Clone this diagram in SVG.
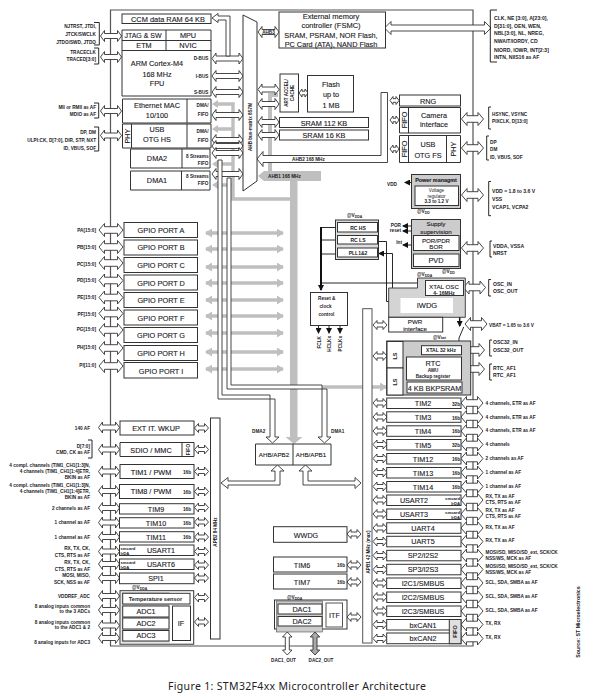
<svg xmlns="http://www.w3.org/2000/svg" width="594" height="700" viewBox="0 0 594 700">
<style>
text{font-family:"Liberation Sans",Arial,sans-serif;fill:#1a1a26}
.t{font-size:7.300px;text-anchor:middle;stroke:#1a1a26;stroke-width:.12}
.m{font-size:7.200px;text-anchor:middle;stroke:#1a1a26;stroke-width:.12}
.u{font-size:6.200px;text-anchor:middle;stroke:#1a1a26;stroke-width:.12}
.s{font-size:4.600px;font-weight:bold;text-anchor:middle}
.l{font-size:4.700px;font-weight:bold}
.f{font-size:5.100px;font-weight:bold}
.e{font-size:4.700px;font-weight:bold;text-anchor:end}
.b{fill:#fff;stroke:#333;stroke-width:1}
.g{fill:#ccc;stroke:#333;stroke-width:1}
.w{fill:#fff;stroke:#333;stroke-width:.9}
.k{fill:none;stroke:#111;stroke-width:.9}
.y{fill:none;stroke:#bfbfbf;stroke-width:3.4}
.fr{fill:none;stroke:#555;stroke-width:1.2}
</style>
<defs>
<marker id="h" markerUnits="userSpaceOnUse" markerWidth="6" markerHeight="6" refX="5" refY="3" orient="auto"><path d="M0,0L6,3L0,6Z" fill="#111"/></marker>
<marker id="gh" markerUnits="userSpaceOnUse" markerWidth="7" markerHeight="9" refX="6" refY="4.5" orient="auto-start-reverse"><path d="M0,0L7,4.5L0,9Z" fill="#bfbfbf"/></marker>
<path id="p" class="w" d="M0,0L5.5,-6.5V-3.3H16.5V-6.5L22,0L16.5,6.5V3.3H5.5V6.5Z"/>
<path id="q" class="w" d="M0,0L5.5,-6.5V-3.3H18.5V-6.5L24,0L18.5,6.5V3.3H5.5V6.5Z"/>
<path id="a" class="w" d="M0,0L4,-4.5V-2H10V-4.5L14,0L10,4.5V2H4V4.5Z"/>
<path id="c" class="w" d="M0,0L4,-5.5V-2.5H17V-5.5L21,0L17,5.5V2.5H4V5.5Z"/>
<path id="r" class="w" d="M0,0L4,-5.5V-2.5H27V-5.5L31,0L27,5.5V2.5H4V5.5Z"/>
<path id="v" class="w" d="M0,0L3,-4V-1.8H6V-4L9,0L6,4V1.8H3V4Z"/>
</defs>
<rect width="594" height="700" fill="#fff"/>
<path class="fr" d="M110.500,646V10H473V646Z"/>
<g id="bus-gray">
<path class="y" d="M217,104H233V199H293M217,129H233M217,164H233M217,185H233"/>
<path d="M212,104l6,-4v8ZM212,129l6,-4v8ZM212,164l6,-4v8ZM212,185l6,-4v8Z" fill="#bfbfbf"/>
<path d="M290,178h7.500v259h5l-8.500,7l-8.500,-7h4.500Z" fill="#bfbfbf"/>
<path d="M258,176L264,171H321V181H264Z" fill="#bfbfbf"/>
<path d="M268,172V93h10v4h-6v75Z" fill="#bfbfbf"/>
<path class="y" marker-end="url(#gh)" d="M297,387H386"/>
<g class="y" marker-start="url(#gh)" marker-end="url(#gh)">
<path d="M206,233H283"/><path d="M206,249H283"/><path d="M206,267H283"/><path d="M206,283H283"/><path d="M206,300H283"/><path d="M206,316H283"/><path d="M206,333H283"/><path d="M206,352H283"/><path d="M206,369H283"/>
</g>
</g>
<g id="connectors">
<use href="#r" x="212" y="58.500"/><use href="#r" x="212" y="76"/><use href="#r" x="212" y="92"/><use href="#r" x="212" y="115"/><use href="#r" x="212" y="140"/><use href="#r" x="212" y="146"/><use href="#r" x="212" y="153"/><use href="#r" x="212" y="174"/>
<path class="w" d="M212,18L218,13.500V16H230V56H226V20H218V22.500Z"/>
<path class="w" d="M218,160H222V395H270V437H266L272.500,443L279,437H275V399H218Z"/>
<path class="w" d="M227,178H231V385H322V437H318L324.500,443L331,437H327V389H227Z"/>
<path class="w" d="M221,483L228,477.500V481H275V471H271L277.500,465L284,471H280V485H228V488.500Z"/>
<path class="w" d="M305.500,465L312,471H308V481H355V477.500L361,483L355,488.500V485H303V471H299Z"/>
<path class="w" d="M257,159L263,151.500V155.500H381V92.500H387.500V162.500H263V166.500Z"/>
<use href="#c" x="258" y="32"/><use href="#c" x="258" y="89.500"/><use href="#c" x="258" y="104"/><use href="#c" x="258" y="122"/><use href="#c" x="258" y="135"/>
<use href="#v" x="299" y="93"/><use href="#v" x="390" y="100.500"/><use href="#v" x="390" y="120"/><use href="#v" x="390" y="149"/>
<path class="w" d="M384.500,28L391,21.500V25H484.500V21.500L491,28L484.500,34.500V31H391V34.500Z"/>
<use href="#p" x="461.500" y="119"/><use href="#p" x="461.500" y="148"/><use href="#p" x="461.500" y="195"/><use href="#p" x="461.500" y="248"/><use href="#p" x="463.500" y="287.500"/><use href="#p" x="465" y="324"/><use href="#p" x="462.500" y="350"/><use href="#p" x="462.500" y="369"/>
<use href="#a" x="373" y="325"/><use href="#a" x="373" y="356"/>
<use href="#p" x="461" y="403"/><use href="#p" x="461" y="417"/><use href="#p" x="461" y="431"/><use href="#p" x="461" y="444.500"/><use href="#p" x="461" y="458.500"/><use href="#p" x="461" y="472.500"/><use href="#p" x="461" y="486.500"/><use href="#p" x="461" y="500"/><use href="#p" x="461" y="514"/><use href="#p" x="461" y="528"/><use href="#p" x="461" y="541.500"/><use href="#p" x="461" y="555.500"/><use href="#p" x="461" y="569.500"/><use href="#p" x="461" y="583"/><use href="#p" x="461" y="597"/><use href="#p" x="461" y="611"/><use href="#p" x="461" y="624.500"/><use href="#p" x="461" y="638.500"/>
<use href="#a" x="373" y="403"/><use href="#a" x="373" y="417"/><use href="#a" x="373" y="431"/><use href="#a" x="373" y="444.500"/><use href="#a" x="373" y="458.500"/><use href="#a" x="373" y="472.500"/><use href="#a" x="373" y="486.500"/><use href="#a" x="373" y="500"/><use href="#a" x="373" y="514"/><use href="#a" x="373" y="528"/><use href="#a" x="373" y="541.500"/><use href="#a" x="373" y="555.500"/><use href="#a" x="373" y="569.500"/><use href="#a" x="373" y="583"/><use href="#a" x="373" y="597"/><use href="#a" x="373" y="611"/><use href="#a" x="373" y="624.500"/><use href="#a" x="373" y="638.500"/>
<use href="#a" x="347" y="534"/><use href="#a" x="347" y="565"/><use href="#a" x="347" y="582"/><use href="#a" x="347" y="617"/>
<use href="#a" x="194.500" y="428"/><use href="#a" x="194.500" y="449.500"/><use href="#a" x="194.500" y="471.500"/><use href="#a" x="194.500" y="491.500"/><use href="#a" x="194.500" y="507.500"/><use href="#a" x="194.500" y="522"/><use href="#a" x="194.500" y="537"/><use href="#a" x="194.500" y="551.500"/><use href="#a" x="194.500" y="565"/><use href="#a" x="194.500" y="578"/><use href="#a" x="194.500" y="597.500"/><use href="#a" x="194.500" y="622"/>
<use href="#c" x="100.500" y="36"/><use href="#c" x="100.500" y="57"/><use href="#c" x="100.500" y="111"/><use href="#c" x="100.500" y="135.500"/>
<use href="#q" x="99" y="230"/><use href="#q" x="99" y="247"/><use href="#q" x="99" y="263"/><use href="#q" x="99" y="280.500"/><use href="#q" x="99" y="297.500"/><use href="#q" x="99" y="313.500"/><use href="#q" x="99" y="330"/><use href="#q" x="99" y="348"/><use href="#q" x="99" y="366"/>
<use href="#c" x="98.500" y="427.500"/><use href="#c" x="98.500" y="449.500"/><use href="#c" x="98.500" y="471.500"/><use href="#c" x="98.500" y="491"/><use href="#c" x="98.500" y="508"/><use href="#c" x="98.500" y="522.500"/><use href="#c" x="98.500" y="537"/><use href="#c" x="98.500" y="551.500"/><use href="#c" x="98.500" y="564"/><use href="#c" x="98.500" y="578"/><use href="#c" x="98.500" y="596"/><use href="#c" x="98.500" y="610"/><use href="#c" x="98.500" y="625.500"/><use href="#c" x="98.500" y="638"/>
<path class="w" d="M287.300,632L292,637H289.300V650H292L287.300,655L282.500,650H285.300V637H282.500Z"/>
<path d="M315,632L319.700,637H317V650H319.700L315,655L310.300,650H313V637H310.300Z" fill="#aaa" stroke="#333" stroke-width=".9"/>
<path d="M321,227V290" fill="none" stroke="#111" stroke-width="2" marker-end="url(#h)"/>
<path d="M321,227.500H337.500M321,240H337.500M321,254H337.500M321,283H417.500V278M378,241.500H386.500V301.500" class="k"/>
<path d="M386.500,301.500H395" class="k" marker-end="url(#h)"/>
<path d="M392.500,288V253.500H379" class="k" marker-end="url(#h)"/>
<path d="M318.500,326V333" class="k" marker-end="url(#h)"/><path d="M329,326V333" class="k" marker-end="url(#h)"/><path d="M340,326V333" class="k" marker-end="url(#h)"/>
<path d="M459.700,313V326" stroke="#111" stroke-width="1.500" fill="none" marker-end="url(#h)"/>
<path d="M463.700,327L459,338V343" class="k"/>
<path d="M421,348H412.600V357" class="k" marker-end="url(#h)"/>
<path d="M411,182.500H405" class="k" marker-end="url(#h)"/><path d="M411,226H403" class="k" marker-end="url(#h)"/><path d="M411,231H403" class="k" marker-end="url(#h)"/><path d="M411,245H403" class="k" marker-end="url(#h)"/>
<path class="k" d="M94,22.500H99.300V45H94M94,48H98.700V64H94M94,103H98.700V118H94M94,127H98.700V151H94M497,10H490.300V62H497M491,107H488.700V129H491M489,136H486.700V160H489M491,181.500H488.700V215.700H491M492,241H490V257H492M491,279.500H488.700V296H491M492,340H489.700V356H492M492,364H489.700V380H492M88,440H92V458H88"/>
</g>
<text class="s" x="268.500" y="34">AHB3</text>
<text class="l" x="292" y="160.500">AHB2 168 MHz</text>
<text class="l" x="268" y="178">AHB1 168 MHz</text>
<text class="l" x="252" y="433">DMA2</text><text class="l" x="331" y="433">DMA1</text>
<g id="ahb-matrix"><path class="g" style="fill:#fff" d="M243,15L257,22V181L243,191Z"/><text class="s" transform="rotate(-90 252 127)" x="252" y="127">AHB bus-matrix 8S7M</text></g>
<g id="ccm"><rect class="b" x="122" y="14" width="89" height="9.500"/><text class="t" style="font-size:7.400px" x="168" y="21.500">CCM data RAM 64 KB</text></g>
<g id="cpu"><path class="b" d="M122,30H211V96H122ZM122,40.500H211M166,30V50.500M122,50.500H211"/><text class="t" style="font-size:7px" x="143" y="38">JTAG &amp; SW</text><text class="t" x="188" y="38">MPU</text><text class="t" x="144" y="48">ETM</text><text class="t" x="188" y="48">NVIC</text><text class="t" x="157" y="66">ARM Cortex-M4</text><text class="t" x="157" y="76.500">168 MHz</text><text class="t" x="157" y="86">FPU</text><text class="e" x="208.500" y="60">D-BUS</text><text class="e" x="208.500" y="78">I-BUS</text><text class="e" x="208.500" y="94">S-BUS</text></g>
<g id="eth"><path class="b" d="M122.500,99H211V123H122.500ZM187,99V123"/><text class="t" x="157" y="108">Ethernet MAC</text><text class="t" x="157" y="118">10/100</text><text class="e" x="208.500" y="107">DMA/</text><text class="e" x="208.500" y="116">FIFO</text></g>
<g id="usbhs"><path class="b" d="M122.500,124H211V148H122.500ZM131.500,124V148M187,124V148"/><text class="t" transform="rotate(-90 129.500 136)" x="129.500" y="136">PHY</text><text class="t" x="157" y="132">USB</text><text class="t" x="157" y="142">OTG HS</text><text class="e" x="208.500" y="133">DMA/</text><text class="e" x="208.500" y="142">FIFO</text></g>
<g id="dma2"><path class="b" d="M130.500,149H210V168H130.500ZM182,149V168"/><text class="t" x="157" y="161">DMA2</text><text class="e" x="208.500" y="157.500">8 Streams</text><text class="e" x="208.500" y="165">FIFO</text></g>
<g id="dma1"><path class="b" d="M130.500,171H210V190H130.500ZM181.500,171V190"/><text class="t" x="157" y="183">DMA1</text><text class="e" x="208.500" y="177.500">8 Streams</text><text class="e" x="208.500" y="185">FIFO</text></g>
<g id="fsmc"><rect class="b" x="279" y="12" width="106.500" height="36"/><text class="t" style="font-size:7.500px" x="331" y="19">External memory</text><text class="t" style="font-size:7.500px" x="331" y="28">controller (FSMC)</text><text class="t" x="331" y="38">SRAM, PSRAM, NOR Flash,</text><text class="t" x="331" y="47">PC Card (ATA), NAND Flash</text></g>
<g id="art"><rect class="b" x="280" y="74" width="18.500" height="38"/><text class="s" transform="rotate(-90 287.500 93)" x="287.500" y="93">ART ACCEL/</text><text class="s" transform="rotate(-90 294 93)" x="294" y="93">CACHE</text></g>
<g id="flash"><rect class="b" x="307.500" y="75.500" width="46" height="36.500"/><text class="t" x="331" y="87">Flash</text><text class="t" x="331" y="97">up to</text><text class="t" x="331" y="108">1 MB</text></g>
<g id="sram112"><rect class="b" x="279.500" y="117.500" width="89" height="10"/><text class="t" x="324" y="125.500">SRAM 112 KB</text></g>
<g id="sram16"><rect class="b" x="279.500" y="130" width="89" height="10"/><text class="t" x="324" y="138">SRAM 16 KB</text></g>
<g id="rng"><rect class="b" x="399.500" y="95" width="61" height="11"/><text class="t" x="428" y="104">RNG</text></g>
<g id="camera"><path class="b" d="M399.500,107.500H460.500V133H399.500ZM408.500,107.500V133"/><text class="t" transform="rotate(-90 406.500 120)" x="406.500" y="120">FIFO</text><text class="t" x="434" y="118">Camera</text><text class="t" x="434" y="127">interface</text></g>
<g id="usbfs"><path class="b" d="M399.500,135.500H460.500V162.500H399.500ZM408.500,135.500V162.500M446.500,135.500V162.500"/><text class="t" transform="rotate(-90 406.500 149)" x="406.500" y="149">FIFO</text><text class="t" x="428" y="147">USB</text><text class="t" x="428" y="158">OTG FS</text><text class="t" transform="rotate(-90 456 149)" x="456" y="149">PHY</text></g>
<g id="power"><rect class="g" x="411.500" y="174.500" width="49" height="34"/><rect class="b" x="415" y="186" width="43.500" height="19.500"/><text class="u" style="font-weight:bold;font-size:5.400px" x="436" y="182">Power managmt</text><text class="s" style="font-weight:normal" x="436.500" y="191.500">Voltage</text><text class="s" style="font-weight:normal" x="436.500" y="197.500">regulator</text><text class="s" x="436.500" y="203">3.3 to 1.2 V</text></g>
<g id="supply"><rect class="g" x="411.500" y="219.500" width="49" height="49"/><rect class="b" x="413.500" y="235.500" width="45.500" height="15"/><rect class="b" x="413.500" y="254" width="45.500" height="12.500"/><text class="u" x="436" y="226">Supply</text><text class="u" x="436" y="233.500">supervision</text><text class="u" x="436" y="242.500">POR/PDR</text><text class="u" x="436" y="249">BOR</text><text class="t" x="436" y="263">PVD</text></g>
<g id="clocks"><rect class="g" style="fill:#ddd" x="335.500" y="220" width="43" height="39.500"/><rect class="b" x="337.500" y="222.500" width="40" height="9.500"/><rect class="b" x="337.500" y="235.500" width="40" height="8.500"/><rect class="b" x="337.500" y="248" width="40" height="9"/><text class="s" style="font-size:5px" x="358" y="230">RC  HS</text><text class="s" style="font-size:5px" x="358" y="242">RC  LS</text><text class="s" style="font-size:5px" x="358" y="255">PLL1&amp;2</text></g>
<g id="reset"><rect class="b" x="310.500" y="292.500" width="37" height="33"/><text class="l" x="318" y="300">Reset &amp;</text><text class="l" x="319.500" y="308">clock</text><text class="l" x="318.500" y="316">control</text><text class="e" transform="rotate(-90 320.500 336)" x="320.500" y="336">FCLK</text><text class="e" transform="rotate(-90 331 336)" x="331" y="336">HCLKx</text><text class="e" transform="rotate(-90 342 336)" x="342" y="336">PCLKx</text></g>
<g id="iwdg"><path d="M388.700,288H417.500V278H465.300V317.300H388.700Z" fill="#d4d4d4" stroke="#333" stroke-width=".9"/><rect x="400.500" y="298" width="52.500" height="15" fill="#fff"/><text class="t" style="font-size:7.500px" x="427" y="308">IWDG</text></g>
<g id="xtal"><rect class="b" x="425.500" y="280.500" width="38" height="15"/><text class="u" x="444" y="288.500">XTAL OSC</text><text class="s" style="font-size:5px" x="444" y="294.500">4- 16MHz</text></g>
<g id="pwr"><rect class="b" x="388.700" y="317.300" width="54" height="14.700"/><text class="u" x="415" y="323.500">PWR</text><text class="u" x="415" y="331">interface</text></g>
<g id="backup"><rect class="g" x="386.700" y="341" width="84" height="54"/><rect class="b" x="387" y="341.500" width="16" height="26.500"/><rect class="b" x="387" y="368" width="16" height="27"/><text class="s" transform="rotate(-90 396.500 356)" x="396.500" y="356" style="font-size:5.500px">LS</text><text class="s" transform="rotate(-90 396.500 382)" x="396.500" y="382" style="font-size:5.500px">LS</text><rect class="b" x="421.500" y="345.700" width="40" height="9"/><text class="s" style="font-size:5px" x="441" y="352">XTAL 32 kHz</text><rect class="b" x="406.500" y="357" width="55" height="23"/><text class="t" x="433" y="366">RTC</text><text class="s" x="433" y="372">AWU</text><text class="s" x="433" y="378">Backup register</text><rect class="b" x="407" y="382" width="55" height="11"/><text class="t" x="434.500" y="391">4 KB BKPSRAM</text></g>
<g id="gpio-a"><rect class="b" x="124" y="222.500" width="73.500" height="15"/><text class="t" x="161" y="233">GPIO PORT A</text></g>
<g id="gpio-b"><rect class="b" x="124" y="240" width="73.500" height="15"/><text class="t" x="161" y="250">GPIO PORT B</text></g>
<g id="gpio-c"><rect class="b" x="124" y="257.500" width="73.500" height="15"/><text class="t" x="161" y="267.500">GPIO PORT C</text></g>
<g id="gpio-d"><rect class="b" x="124" y="275" width="73.500" height="15"/><text class="t" x="161" y="285.500">GPIO PORT D</text></g>
<g id="gpio-e"><rect class="b" x="124" y="292.500" width="73.500" height="15"/><text class="t" x="161" y="303">GPIO PORT E</text></g>
<g id="gpio-f"><rect class="b" x="124" y="310" width="73.500" height="15"/><text class="t" x="161" y="320.500">GPIO PORT F</text></g>
<g id="gpio-g"><rect class="b" x="124" y="327.500" width="73.500" height="15"/><text class="t" x="161" y="338">GPIO PORT G</text></g>
<g id="gpio-h"><rect class="b" x="124" y="345.500" width="73.500" height="15"/><text class="t" x="161" y="356">GPIO PORT H</text></g>
<g id="gpio-i"><rect class="b" x="124" y="362.500" width="73.500" height="15.500"/><text class="t" x="161" y="374">GPIO PORT I</text></g>
<g id="apb2"><rect class="b" x="210.500" y="418" width="9.500" height="221"/><text class="s" transform="rotate(-90 217 532)" x="217" y="532">APB2 84 MHz</text></g>
<g id="apb1"><rect class="b" style="stroke:#555" x="362.700" y="308.700" width="9.300" height="334.300"/><text class="s" transform="rotate(-90 369.500 552)" x="369.500" y="552">APB1 42 MHz (max)</text></g>
<g id="ahbapb"><path class="b" d="M255.500,444H331V465H255.500ZM293,444V465"/><text class="u" x="274" y="456.500">AHB/APB2</text><text class="u" x="311" y="456.500">AHB/APB1</text></g>
<g id="exti"><rect class="b" x="120" y="421" width="74" height="14"/><text class="t" x="156" y="430.500">EXT IT. WKUP</text></g>
<g id="sdio"><path class="b" d="M120,442.500H194V456.500H120ZM182,442.500V456.500"/><text class="t" x="151" y="452.500">SDIO / MMC</text><text class="s" style="font-size:5px" transform="rotate(-90 189.500 449.500)" x="189.500" y="449.500">FIFO</text></g>
<g id="tim1"><rect class="b" x="120" y="464.500" width="74" height="14"/><text class="t" x="151" y="474.500">TIM1 / PWM</text><text class="e" x="191" y="473.500">16b</text></g>
<g id="tim8"><rect class="b" x="119.500" y="484.500" width="74.500" height="14"/><text class="t" x="151" y="493.500">TIM8 / PWM</text><text class="e" x="191" y="493.500">16b</text></g>
<g id="tim9"><rect class="b" x="119.500" y="503.700" width="74.500" height="10.300"/><text class="m" x="156" y="511.500">TIM9</text><text class="e" x="191" y="511">16b</text></g>
<g id="tim10"><rect class="b" x="119.500" y="517.700" width="74.500" height="10.300"/><text class="m" x="156" y="525.500">TIM10</text><text class="e" x="191" y="525">16b</text></g>
<g id="tim11"><rect class="b" x="119.500" y="531.700" width="74.500" height="10.300"/><text class="m" x="156" y="539.500">TIM11</text><text class="e" x="191" y="539">16b</text></g>
<g id="usart1"><rect class="b" x="119.500" y="545" width="74.500" height="10.500"/><text class="m" x="161" y="553">USART1</text><text class="l" style="font-size:4.200px" x="120.500" y="549.500">smcard</text><text class="l" style="font-size:4.200px" x="120.500" y="554.500">IrDA</text></g>
<g id="usart6"><rect class="b" x="119.500" y="559" width="74.500" height="10.500"/><text class="m" x="161" y="567">USART6</text><text class="l" style="font-size:4.200px" x="120.500" y="563.500">smcard</text><text class="l" style="font-size:4.200px" x="120.500" y="568.500">IrDA</text></g>
<g id="spi1"><rect class="b" x="119.500" y="573" width="74.500" height="10.700"/><text class="m" x="156" y="581">SPI1</text></g>
<g id="adc"><rect class="b" x="120" y="590.700" width="73.700" height="53.500"/><rect x="121.500" y="592" width="48" height="50.500" fill="#ccc"/><rect class="b" x="122.700" y="593.300" width="67.300" height="10.700"/><rect class="b" x="122.700" y="606" width="46.300" height="11"/><rect class="b" x="122.700" y="618" width="46.300" height="11"/><rect class="b" x="122.700" y="630.500" width="46.300" height="10.500"/><rect class="b" x="172.500" y="606" width="18" height="34.500"/><text class="s" style="font-size:5.600px" x="155.500" y="601">Temperature sensor</text><text class="m" x="146" y="614">ADC1</text><text class="m" x="146" y="626">ADC2</text><text class="m" x="146" y="638">ADC3</text><text class="t" x="181" y="626">IF</text></g>
<g id="wwdg"><rect class="b" x="273.500" y="526.700" width="73.500" height="15.600"/><text class="m" x="306" y="537.500">WWDG</text></g>
<g id="tim6"><rect class="b" x="273.500" y="557" width="73.500" height="15"/><text class="m" x="302" y="567.500">TIM6</text><text class="e" x="345" y="567">16b</text></g>
<g id="tim7"><rect class="b" x="273.500" y="574" width="73.500" height="15"/><text class="m" x="302" y="584.500">TIM7</text><text class="e" x="345" y="584">16b</text></g>
<g id="dac"><rect class="b" x="274.500" y="600" width="72.500" height="29"/><rect x="276.500" y="601" width="46" height="31" fill="#ccc" stroke="#333" stroke-width=".5"/><rect class="b" x="278" y="604" width="44" height="10"/><rect class="b" x="278" y="616.500" width="44" height="9.500"/><rect class="b" style="stroke:#555" x="326" y="603" width="16.500" height="24"/><text class="m" x="302" y="611.500">DAC1</text><text class="m" x="302" y="623.500">DAC2</text><text class="m" x="334.500" y="618">ITF</text></g>
<g id="tim2"><rect class="b" x="386.700" y="398" width="74.300" height="10.500"/><text class="m" x="423" y="405.500">TIM2</text><text class="e" x="460" y="405.500">32b</text></g>
<g id="tim3"><rect class="b" x="386.700" y="411.800" width="74.300" height="10.500"/><text class="m" x="423" y="419.500">TIM3</text><text class="e" x="460" y="419.500">16b</text></g>
<g id="tim4"><rect class="b" x="386.700" y="425.800" width="74.300" height="10.500"/><text class="m" x="423" y="433.500">TIM4</text><text class="e" x="460" y="433">16b</text></g>
<g id="tim5"><rect class="b" x="386.700" y="439.500" width="74.300" height="10.500"/><text class="m" x="423" y="447.500">TIM5</text><text class="e" x="460" y="447">32b</text></g>
<g id="tim12"><rect class="b" x="386.700" y="453.500" width="74.300" height="10.500"/><text class="m" x="423" y="461.500">TIM12</text><text class="e" x="460" y="461">16b</text></g>
<g id="tim13"><rect class="b" x="386.700" y="467.500" width="74.300" height="10.500"/><text class="m" x="423" y="475.500">TIM13</text><text class="e" x="460" y="475">16b</text></g>
<g id="tim14"><rect class="b" x="386.700" y="481.500" width="74.300" height="10.500"/><text class="m" x="423" y="489.500">TIM14</text><text class="e" x="460" y="489">16b</text></g>
<g id="usart2"><rect class="b" x="386.700" y="495" width="74.300" height="10.500"/><text class="m" x="414" y="503">USART2</text><text class="e" style="font-size:4.200px" x="460" y="499.500">smcard</text><text class="e" style="font-size:4.200px" x="460" y="504.500">IrDA</text></g>
<g id="usart3"><rect class="b" x="386.700" y="509" width="74.300" height="10.500"/><text class="m" x="414" y="517">USART3</text><text class="e" style="font-size:4.200px" x="460" y="513.500">smcard</text><text class="e" style="font-size:4.200px" x="460" y="518.500">IrDA</text></g>
<g id="uart4"><rect class="b" x="386.700" y="522.800" width="74.300" height="10.500"/><text class="m" x="423" y="530.500">UART4</text></g>
<g id="uart5"><rect class="b" x="386.700" y="536.300" width="74.300" height="10.500"/><text class="m" x="423" y="544">UART5</text></g>
<g id="spi2"><rect class="b" x="386.700" y="550.300" width="74.300" height="10.500"/><text class="m" x="423" y="558">SP2/I2S2</text></g>
<g id="spi3"><rect class="b" x="386.700" y="564.300" width="74.300" height="10.500"/><text class="m" x="423" y="572">SP3/I2S3</text></g>
<g id="i2c1"><rect class="b" x="386.700" y="578" width="74.300" height="10.500"/><text class="m" x="423" y="585.500">I2C1/SMBUS</text></g>
<g id="i2c2"><rect class="b" x="386.700" y="592" width="74.300" height="10.500"/><text class="m" x="423" y="599.500">I2C2/SMBUS</text></g>
<g id="i2c3"><rect class="b" x="386.700" y="606" width="74.300" height="10.500"/><text class="m" x="423" y="613.500">I2C3/SMBUS</text></g>
<g id="can"><rect class="b" x="386.700" y="619.500" width="74.300" height="10.500"/><rect class="b" x="386.700" y="633" width="74.300" height="10.700"/><rect class="g" style="fill:#e0e0e0" x="449.300" y="619.500" width="11.700" height="24.200"/><text class="m" x="423" y="627.500">bxCAN1</text><text class="m" x="423" y="641">bxCAN2</text><text class="s" style="font-size:5.500px" transform="rotate(-90 456.500 631.500)" x="456.500" y="631.500">FIFO</text></g>
<g id="pin-labels">
<text class="e" x="96" y="28">NJTRST, JTDI,</text><text class="e" x="96" y="36">JTCK/SWCLK</text><text class="e" x="96" y="43.500">JTDO/SWD, JTDO</text><text class="e" x="96" y="53.500">TRACECLK</text><text class="e" x="96" y="60.500">TRACED[3:0]</text><text class="e" x="96" y="108.500">MII or RMII as AF</text><text class="e" x="96" y="115.500">MDIO as AF</text><text class="e" x="96" y="133.500">DP, DM</text><text class="e" x="96" y="141.500">ULPI:CK, D[7:0], DIR, STP, NXT</text><text class="e" x="96" y="149.500">ID, VBUS, SOF</text>
<text class="e" x="96" y="232">PA[15:0]</text><text class="e" x="96" y="248.500">PB[15:0]</text><text class="e" x="96" y="266">PC[15:0]</text><text class="e" x="96" y="282">PD[15:0]</text><text class="e" x="96" y="298.500">PE[15:0]</text><text class="e" x="96" y="316">PF[15:0]</text><text class="e" x="96" y="331">PG[15:0]</text><text class="e" x="96" y="349">PH[15:0]</text><text class="e" x="96" y="367">PI[11:0]</text>
<text class="e" x="90" y="429.500">140 AF</text><text class="e" x="90" y="448">D[7:0]</text><text class="e" x="90" y="454">CMD, CK as AF</text>
<text class="e" x="90" y="467">4 compl. channels (TIM1_CH1[1:3]N,</text><text class="e" x="90" y="473">4 channels (TIM1_CH1[1:4]ETR,</text><text class="e" x="90" y="478.500">BKIN as AF</text>
<text class="e" x="90" y="487">4 compl. channels (TIM1_CH1[1:3]N,</text><text class="e" x="90" y="493">4 channels (TIM1_CH1[1:4]ETR,</text><text class="e" x="90" y="498.500">BKIN as AF</text>
<text class="e" x="90" y="509.500">2 channels as AF</text><text class="e" x="90" y="524">1 channel as AF</text><text class="e" x="90" y="538.500">1 channel as AF</text>
<text class="e" x="90" y="550">RX, TX, CK,</text><text class="e" x="90" y="556.500">CTS, RTS as AF</text><text class="e" x="90" y="564">RX, TX, CK,</text><text class="e" x="90" y="570.500">CTS, RTS as AF</text><text class="e" x="90" y="577">MOSI, MISO,</text><text class="e" x="90" y="583.500">SCK, NSS as AF</text>
<text class="e" x="90" y="598">VDDREF_ADC</text><text class="e" x="90" y="607.500">8 analog inputs common</text><text class="e" x="90" y="612.500">to the 3 ADCs</text><text class="e" x="90" y="623.500">8 analog inputs common</text><text class="e" x="90" y="628.500">to the ADC1 &amp; 2</text><text class="e" x="90" y="643.500">8 analog inputs for ADC3</text>
<text class="f" x="494" y="20">CLK, NE [3:0], A[23:0],</text><text class="f" x="494" y="28">D[31:0], OEN, WEN,</text><text class="f" x="494" y="35">NBL[3:0], NL, NREG,</text><text class="f" x="494" y="43">NWAIT/IORDY, CD</text><text class="f" x="494" y="51.500">NIORD, IOWR, INT[2:3]</text><text class="f" x="494" y="59">INTN, NIIS16 as AF</text>
<text class="l" x="492" y="115.500">HSYNC, VSYNC</text><text class="l" x="492" y="123">PIXCLK, D[13:0]</text><text class="l" x="490" y="143.500">DP</text><text class="l" x="490" y="150.500">DM</text><text class="l" x="490" y="158.500">ID, VBUS, SOF</text>
<text class="f" x="492" y="192.500">VDD = 1.8 to 3.6 V</text><text class="f" x="492" y="200.500">VSS</text><text class="f" x="492" y="208.500">VCAP1, VCPA2</text>
<text class="f" x="493" y="248">VDDA, VSSA</text><text class="f" x="493" y="255">NRST</text><text class="f" x="493" y="286">OSC_IN</text><text class="f" x="493" y="293">OSC_OUT</text><text class="l" x="489" y="326.500">VBAT = 1.65 to 3.6 V</text><text class="f" x="493" y="344">OSC32_IN</text><text class="f" x="493" y="351.500">OSC32_OUT</text><text class="f" x="493" y="370">RTC_AF1</text><text class="f" x="493" y="377">RTC_AF1</text>
<text class="l" x="485.500" y="404.500">4 channels, ETR as AF</text><text class="l" x="485.500" y="418.500">4 channels, ETR as AF</text><text class="l" x="485.500" y="431.500">4 channels, ETR as AF</text><text class="l" x="485.500" y="445.500">4 channels</text><text class="l" x="485.500" y="459.500">2 channels as AF</text><text class="l" x="485.500" y="473.500">1 channel as AF</text><text class="l" x="485.500" y="487.500">1 channel as AF</text>
<text class="l" x="485.500" y="497.500">RX, TX as AF</text><text class="l" x="485.500" y="503.500">CTS, RTS as AF</text><text class="l" x="485.500" y="511.500">RX, TX as AF</text><text class="l" x="485.500" y="517.500">CTS, RTS as AF</text><text class="l" x="485.500" y="528.500">RX, TX as AF</text><text class="l" x="485.500" y="542">RX, TX as AF</text>
<text class="l" x="485.500" y="553.500">MOSI/SD, MISO/SD_ext, SCK/CK</text><text class="l" x="485.500" y="559.500">NSS/WS, MCK as AF</text><text class="l" x="485.500" y="567.500">MOSI/SD, MISO/SD_ext, SCK/CK</text><text class="l" x="485.500" y="573.500">NSS/WS, MCK as AF</text>
<text class="l" x="485.500" y="583.500">SCL, SDA, SMBA as AF</text><text class="l" x="485.500" y="597.500">SCL, SDA, SMBA as AF</text><text class="l" x="485.500" y="611.500">SCL, SDA, SMBA as AF</text><text class="l" x="485.500" y="625">TX, RX</text><text class="l" x="485.500" y="639">TX, RX</text>
<text class="l" x="387" y="185.500">VDD</text><text class="e" x="401" y="226.500">POR</text><text class="e" x="401" y="232">reset</text><text class="e" x="402" y="244">Int</text>
<text class="l" x="347" y="217">@V<tspan font-size="3.500" dy="1">DDA</tspan></text><text class="l" x="417" y="212.500">@V<tspan font-size="3.500" dy="1">DD</tspan></text><text class="l" x="417" y="275.500">@V<tspan font-size="3.500" dy="1">DDA</tspan></text><text class="l" x="442" y="272.500">@V<tspan font-size="3.500" dy="1">DD</tspan></text><text class="l" x="433" y="339">@V<tspan font-size="3.500">bat</tspan></text><text class="l" x="132" y="589">@V<tspan font-size="3.500" dy="1">DDA</tspan></text><text class="l" x="287" y="599">@V<tspan font-size="3.500" dy="1">DDA</tspan></text>
<text class="s" x="283.500" y="662">DAC1_OUT</text><text class="s" x="321" y="662">DAC2_OUT</text>
</g>
<text x="297" y="690" text-anchor="middle" textLength="258" lengthAdjust="spacing" style="font-family:'Noto Sans',sans-serif;font-size:10.500px;fill:#222">Figure 1: STM32F4xx Microcontroller Architecture</text>
<text transform="rotate(-90 580 622)" x="580" y="622" text-anchor="middle" style="font-size:5.300px;font-weight:bold">Source: ST Microelectronics</text>
</svg>
